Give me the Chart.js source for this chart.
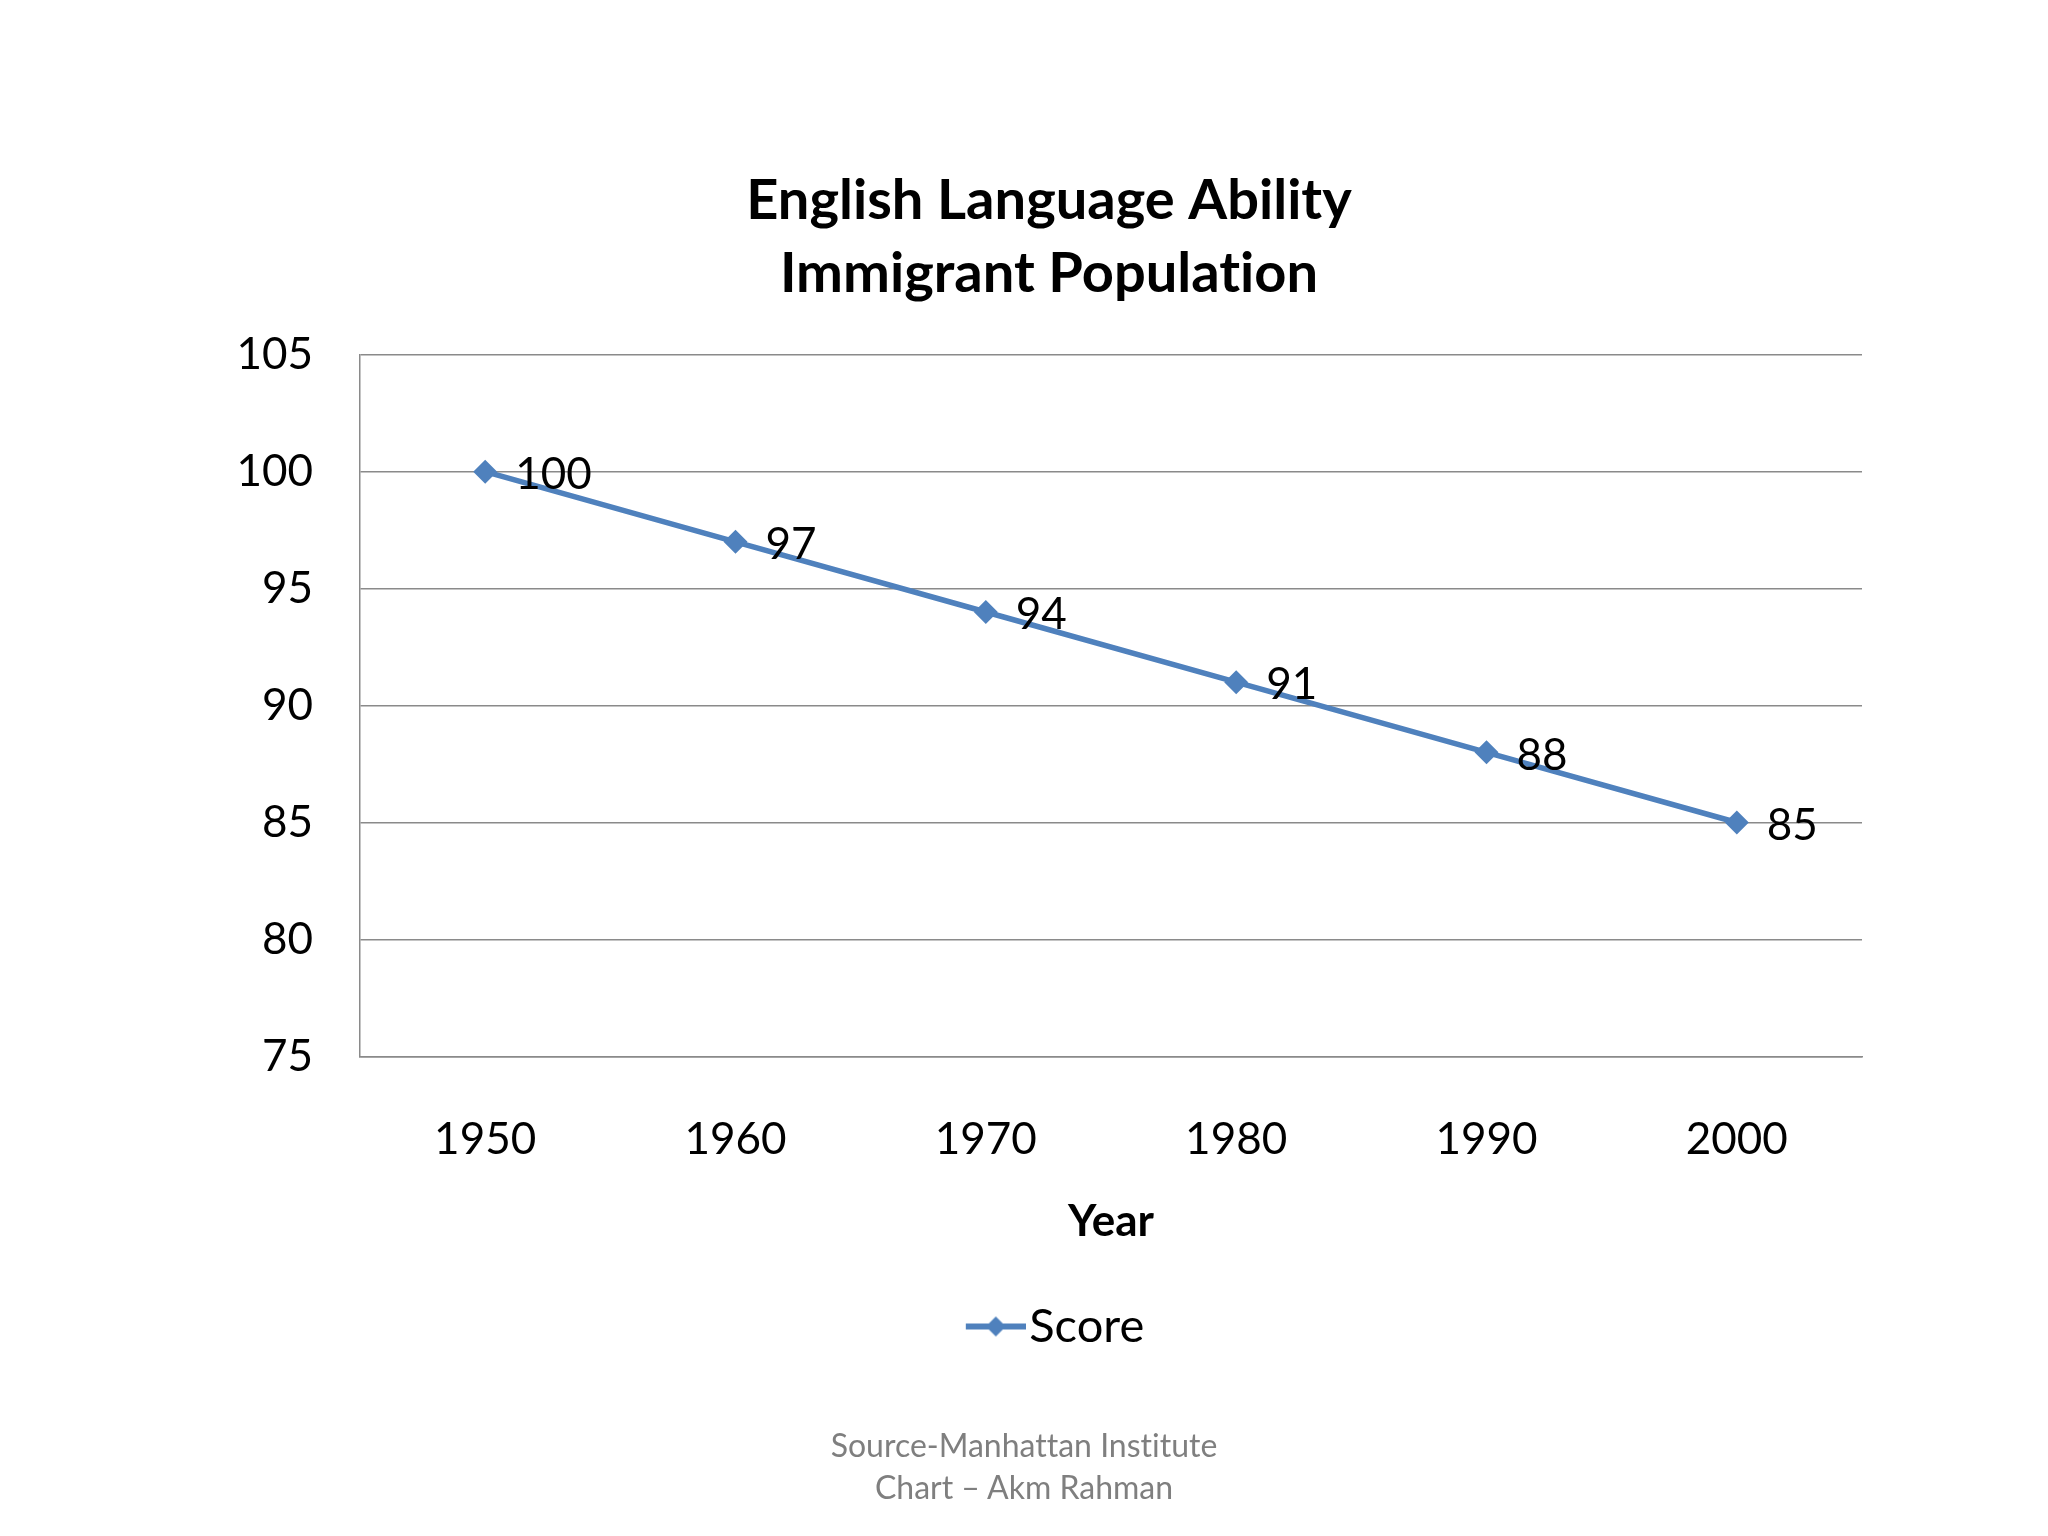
<!DOCTYPE html>
<html lang="en">
<head>
    <meta charset="UTF-8">
    <title>English Language Ability</title>
    <script src="https://cdn.jsdelivr.net/npm/chart.js"></script>
    <style>
        body {
            margin: 0;
            background: #ffffff;
            font-family: Lato, sans-serif;
        }
        .chart-wrapper {
            position: relative;
            width: 2048px;
            height: 1536px;
        }
        .source {
            position: absolute;
            left: 0;
            width: 2048px;
            top: 1424px;
            text-align: center;
            font-size: 32px;
            line-height: 42px;
            color: #7f7f7f;
            font-variant-ligatures: none;
        }
    </style>
</head>
<body>
<div class="chart-wrapper">
    <canvas id="scoreChart"></canvas>
    <div class="source">Source-Manhattan Institute<br>Chart – Akm Rahman</div>
</div>

<script>
    const years = ['1950', '1960', '1970', '1980', '1990', '2000'];
    const scores = [100, 97, 94, 91, 88, 85];
    const yTicks = [75, 80, 85, 90, 95, 100, 105];

    const blue = '#4f81bd';
    const gridGray = '#8a8a8a';

    // legend marker: line with a diamond in the middle (blank space on the left)
    const marker = document.createElement('canvas');
    marker.width = 92;
    marker.height = 24;
    const mctx = marker.getContext('2d');
    mctx.strokeStyle = blue;
    mctx.lineWidth = 6;
    mctx.beginPath();
    mctx.moveTo(32, 12);
    mctx.lineTo(92, 12);
    mctx.stroke();
    mctx.fillStyle = blue;
    mctx.beginPath();
    mctx.moveTo(62, 2);
    mctx.lineTo(72, 12);
    mctx.lineTo(62, 22);
    mctx.lineTo(52, 12);
    mctx.closePath();
    mctx.fill();

    // turn off ligatures like "ti" so canvas text looks plain
    const noLigatures = {
        id: 'noLigatures',
        beforeDraw(chart) {
            chart.ctx.letterSpacing = '0.01px';
        }
    };

    // value labels to the right of each point
    const valueLabels = {
        id: 'valueLabels',
        afterDatasetsDraw(chart) {
            const ctx = chart.ctx;
            const meta = chart.getDatasetMeta(0);
            ctx.save();
            ctx.font = '44px Lato';
            ctx.fillStyle = '#000';
            ctx.textAlign = 'left';
            ctx.textBaseline = 'middle';
            meta.data.forEach((pt, i) => {
                ctx.fillText(String(scores[i]), pt.x + 30, pt.y + 3);
            });
            ctx.restore();
        }
    };

    const config = {
        type: 'line',
        data: {
            labels: years,
            datasets: [{
                label: 'Score',
                data: scores,
                borderColor: blue,
                backgroundColor: blue,
                borderWidth: 5.5,
                pointStyle: 'rectRot',
                pointRadius: 12,
                pointBorderWidth: 0,
                tension: 0
            }]
        },
        options: {
            responsive: true,
            maintainAspectRatio: false,
            animation: false,
            layout: {
                padding: { left: 236, right: 186, top: 164, bottom: 176 }
            },
            plugins: {
                title: {
                    display: true,
                    text: ['English Language Ability', 'Immigrant Population'],
                    color: '#000',
                    font: { family: 'Lato', size: 56, weight: 'bold', lineHeight: 1.31 },
                    padding: { top: 0, bottom: 44 }
                },
                legend: {
                    position: 'bottom',
                    labels: {
                        usePointStyle: true,
                        pointStyleWidth: 52,
                        color: '#000',
                        font: { family: 'Lato', size: 47 },
                        generateLabels: () => [{
                            text: 'Score',
                            pointStyle: marker,
                            fillStyle: blue,
                            strokeStyle: blue,
                            lineWidth: 0,
                            datasetIndex: 0
                        }]
                    }
                },
                tooltip: { enabled: false }
            },
            scales: {
                x: {
                    offset: true,
                    grid: { display: false, drawTicks: false },
                    border: { display: true, color: gridGray, width: 1.5 },
                    ticks: {
                        color: '#000',
                        font: { family: 'Lato', size: 44 },
                        padding: 57,
                        maxRotation: 0
                    },
                    title: {
                        display: true,
                        text: 'Year',
                        color: '#000',
                        font: { family: 'Lato', size: 44, weight: 'bold' },
                        padding: { top: -28, bottom: 45 }
                    }
                },
                y: {
                    min: yTicks[0],
                    max: yTicks[yTicks.length - 1],
                    afterBuildTicks: (scale) => {
                        scale.ticks = yTicks.map(v => ({ value: v }));
                    },
                    afterFit: (scale) => {
                        scale.width = 124;
                    },
                    grid: { color: gridGray, lineWidth: 1.5, drawTicks: false },
                    border: { display: true, color: gridGray, width: 1.5 },
                    ticks: {
                        color: '#000',
                        font: { family: 'Lato', size: 44 },
                        padding: 47
                    }
                }
            }
        },
        plugins: [noLigatures, valueLabels]
    };

    const ctx = document.getElementById('scoreChart').getContext('2d');
    new Chart(ctx, config);
</script>
</body>
</html>
